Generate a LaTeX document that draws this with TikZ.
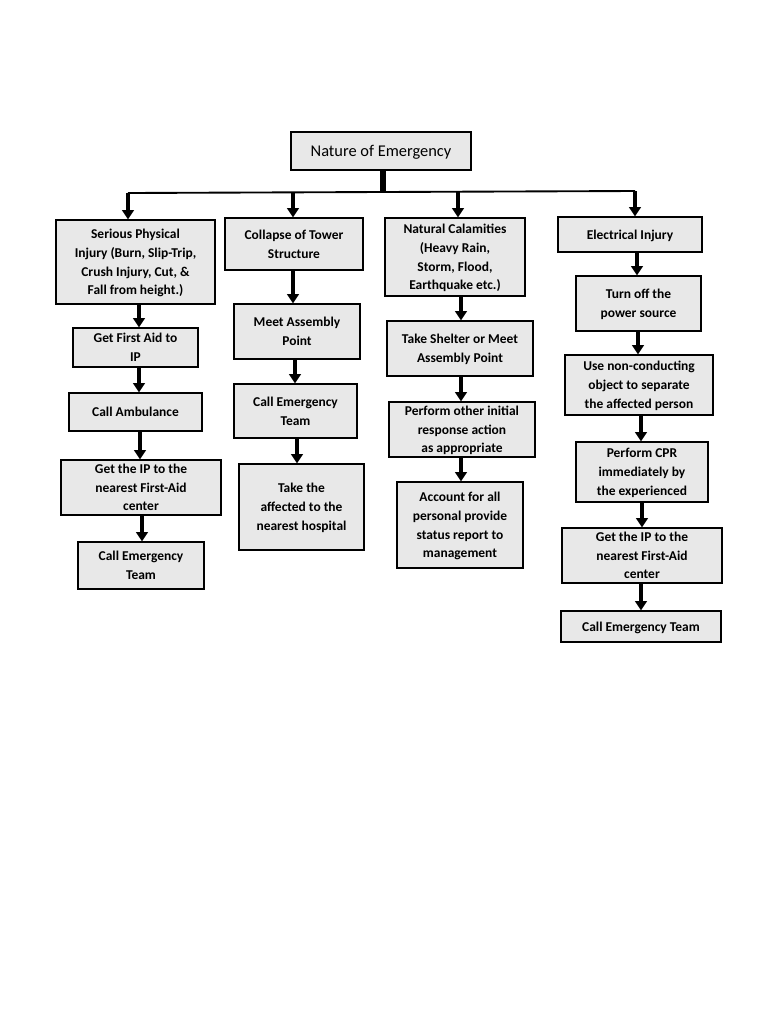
\documentclass[tikz,border=0pt]{standalone}
\usepackage{fontspec}
\setmainfont{Carlito}
\usetikzlibrary{arrows.meta}
\tikzset{
  stepbox/.style={draw, line width=1pt, fill=gray!18, align=center, inner sep=2pt,
    font=\bfseries\fontsize{11.5}{16}\selectfont, text depth=0pt},
  flowarrow/.style={line width=3.6pt, -{Triangle[width=10pt,length=8pt]}},
  trunk/.style={line width=1.6pt}
}
% box from corners (pixels)
\newcommand{\stepnode}[6]{%
  \node[stepbox, minimum width={(#4-#2)*0.03cm}, minimum height={(#5-#3)*0.03cm}]
    (#1) at ({(#2+#4)/2},{(#3+#5)/2}) {#6};}
\begin{document}
\begin{tikzpicture}[x=0.03cm,y=-0.03cm]
	\useasboundingbox (0,0) rectangle (768,1024);

	\node[stepbox, font=\fontsize{14}{17}\selectfont, minimum width=5.4cm, minimum height=1.14cm]
	  (nature) at (381,151) {Nature of Emergency};

	% column 1
	\stepnode{injury}{56}{220}{215}{304}{Serious Physical\\Injury (Burn, Slip-Trip,\\Crush Injury, Cut, \&\\Fall from height.)}
	\stepnode{firstaid}{73}{328}{198}{367}{Get First Aid to\\IP}
	\stepnode{ambulance}{69}{393}{202}{431}{Call Ambulance}
	\stepnode{ipA}{61}{460}{221}{515}{Get the IP to the\\nearest First-Aid\\center}
	\stepnode{teamA}{78}{542}{204}{589}{Call Emergency\\Team}

	% column 2
	\stepnode{collapse}{225}{218}{363}{270}{Collapse of Tower\\Structure}
	\stepnode{assemblyB}{234}{304}{360}{359}{Meet Assembly\\Point}
	\stepnode{teamB}{234}{384}{357}{438}{Call Emergency\\Team}
	\stepnode{hospital}{239}{464}{364}{550}{Take the\\affected to the\\nearest hospital}

	% column 3
	\stepnode{natural}{385}{218}{525}{296}{Natural Calamities\\(Heavy Rain,\\Storm, Flood,\\Earthquake etc.)}
	\stepnode{shelter}{387}{321}{533}{376}{Take Shelter or Meet\\Assembly Point}
	\stepnode{initial}{389}{402}{535}{457}{Perform other initial\\response action\\as appropriate}
	\stepnode{account}{397}{482}{523}{568}{Account for all\\personal provide\\status report to\\management}

	% column 4
	\stepnode{electric}{558}{217}{702}{252}{Electrical Injury}
	\stepnode{power}{576}{276}{701}{331}{Turn off the\\power source}
	\stepnode{separate}{565}{355}{713}{415}{Use non-conducting\\object to separate\\the affected person}
	\stepnode{cpr}{576}{442}{708}{502}{Perform CPR\\immediately by\\the experienced}
	\stepnode{ipD}{562}{528}{722}{583}{Get the IP to the\\nearest First-Aid\\center}
	\stepnode{teamD}{561}{611}{721}{642}{Call Emergency Team}

	% trunk
	\coordinate (split) at (383,192);
	\coordinate (left) at (128,193);
	\coordinate (right) at (635,191);
	\draw[line width=5pt] (nature.south -| split) -- (split);
	\draw[trunk] (left) -- (right);
	\draw[flowarrow] (left) -- (left |- injury.north);
	\draw[flowarrow] (293,192) -- (collapse.north -| 293,0);
	\draw[flowarrow] (458,192) -- (natural.north -| 458,0);
	\draw[flowarrow] (right) -- (electric.north -| right);

	% chains
	\foreach \a/\b/\x in {injury/firstaid/139, firstaid/ambulance/139, ambulance/ipA/140, ipA/teamA/142,
	                      collapse/assemblyB/293, assemblyB/teamB/295, teamB/hospital/297,
	                      natural/shelter/461, shelter/initial/461, initial/account/461,
	                      electric/power/637, power/separate/638, separate/cpr/641, cpr/ipD/642, ipD/teamD/641}
	  \draw[flowarrow] (\a.south -| \x,0) -- (\b.north -| \x,0);
\end{tikzpicture}
\end{document}
